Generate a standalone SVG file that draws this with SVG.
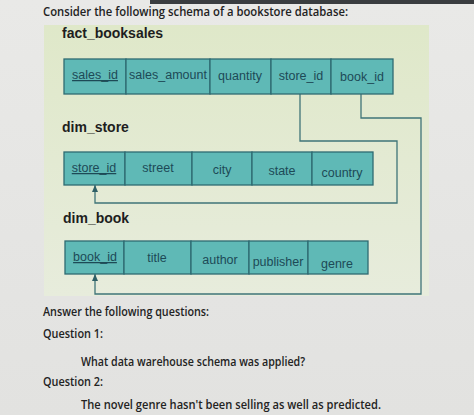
<svg xmlns="http://www.w3.org/2000/svg" width="474" height="415" viewBox="0 0 474 415">
<defs>
<style>
.doc{font-family:"Open Sans","Liberation Sans",sans-serif;fill:#222;font-weight:600;font-size:13px}
.lbl{font-family:"Liberation Sans",Arial,sans-serif;font-weight:bold;font-size:14px;fill:#1e1e1e}
.cell{fill:#5fb9b6;stroke:#2e6a72;stroke-width:1.3}
.ct{font-family:"Liberation Sans",Arial,sans-serif;font-size:12.5px;fill:#1d4a56;text-anchor:middle}
.key{text-decoration:underline}
.conn{fill:none;stroke:#3f7478;stroke-width:1.3}
</style>
<marker id="arr" markerWidth="8" markerHeight="8" refX="7" refY="3" orient="auto" markerUnits="userSpaceOnUse">
<path d="M0,0 L7,3 L0,6 Z" fill="#2e5f66"/>
</marker>
<linearGradient id="bg" x1="0" y1="0" x2="0" y2="1">
<stop offset="0" stop-color="#e9e9e7"/>
<stop offset="1" stop-color="#e2e2e0"/>
</linearGradient>
<linearGradient id="pan" x1="0" y1="0" x2="0" y2="1">
<stop offset="0" stop-color="#dfe8c9"/>
<stop offset="1" stop-color="#e7ecdc"/>
</linearGradient>
</defs>
<rect width="474" height="415" fill="url(#bg)"/>
<rect x="150" y="0" width="324" height="4" fill="#3a3d40"/>
<text class="doc" x="43" y="16" font-size="14" textLength="305" lengthAdjust="spacingAndGlyphs">Consider the following schema of a bookstore database:</text>
<rect x="44" y="25" width="385" height="271" fill="url(#pan)"/>

<g id="connectors">
<polyline class="conn" points="300,94 300,141 397,141 397,203 95,203 95,185" marker-end="url(#arr)"/>
<polyline class="conn" points="361,94 361,118 421,118 421,294 95,294 95,274" marker-end="url(#arr)"/>
</g>

<g id="fact_booksales">
<text class="lbl" x="62" y="38">fact_booksales</text>
<rect class="cell" x="64" y="59" width="62" height="35"/>
<rect class="cell" x="126" y="59" width="84" height="35"/>
<rect class="cell" x="210" y="59" width="61" height="35"/>
<rect class="cell" x="271" y="59" width="60" height="35"/>
<rect class="cell" x="331" y="59" width="62" height="35"/>
<text class="ct key" x="95" y="79">sales_id</text>
<text class="ct" x="168" y="79">sales_amount</text>
<text class="ct" x="240" y="80">quantity</text>
<text class="ct" x="301" y="80">store_id</text>
<text class="ct" x="362" y="81">book_id</text>
</g>

<g id="dim_store">
<text class="lbl" x="62" y="132">dim_store</text>
<rect class="cell" x="64" y="152" width="61" height="33"/>
<rect class="cell" x="125" y="152" width="67" height="33"/>
<rect class="cell" x="192" y="152" width="60" height="33"/>
<rect class="cell" x="252" y="152" width="60" height="33"/>
<rect class="cell" x="312" y="152" width="61" height="33"/>
<text class="ct key" x="94" y="172">store_id</text>
<text class="ct" x="158" y="172">street</text>
<text class="ct" x="222" y="174">city</text>
<text class="ct" x="282" y="175">state</text>
<text class="ct" x="342" y="177">country</text>
</g>

<g id="dim_book">
<text class="lbl" x="63" y="223">dim_book</text>
<rect class="cell" x="65" y="241" width="59" height="33"/>
<rect class="cell" x="124" y="241" width="67" height="33"/>
<rect class="cell" x="191" y="241" width="58" height="33"/>
<rect class="cell" x="249" y="241" width="59" height="33"/>
<rect class="cell" x="308" y="241" width="60" height="33"/>
<text class="ct key" x="95" y="261">book_id</text>
<text class="ct" x="157" y="262">title</text>
<text class="ct" x="220" y="264">author</text>
<text class="ct" x="278" y="266">publisher</text>
<text class="ct" x="337" y="268">genre</text>
</g>

<text class="doc" x="43" y="316" textLength="166" lengthAdjust="spacingAndGlyphs">Answer the following questions:</text>
<text class="doc" x="43" y="338" textLength="60" lengthAdjust="spacingAndGlyphs">Question 1:</text>
<text class="doc" x="81" y="366" textLength="224" lengthAdjust="spacingAndGlyphs">What data warehouse schema was applied?</text>
<text class="doc" x="43" y="386" textLength="60" lengthAdjust="spacingAndGlyphs">Question 2:</text>
<text class="doc" x="81" y="409" textLength="300" lengthAdjust="spacingAndGlyphs">The novel genre hasn't been selling as well as predicted.</text>
</svg>
